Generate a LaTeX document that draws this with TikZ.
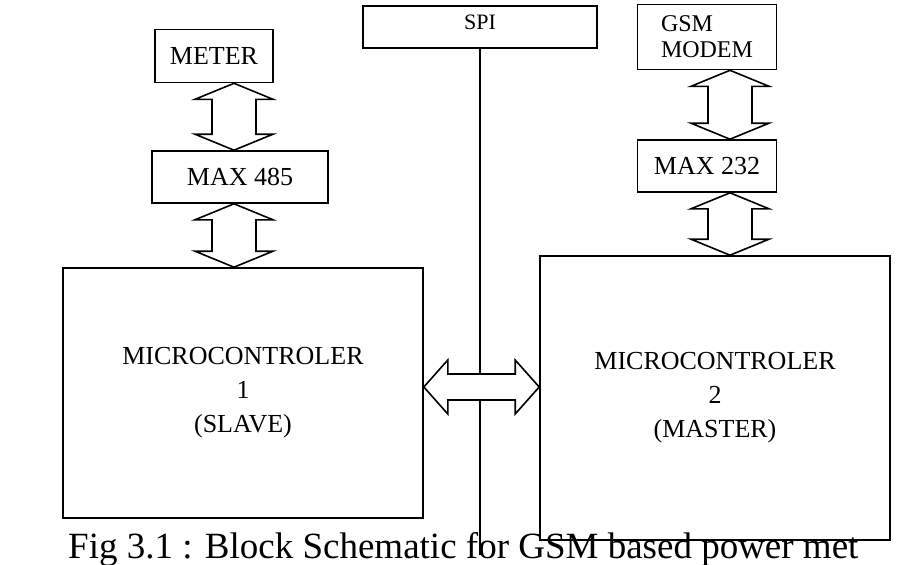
\documentclass[tikz,border=0pt]{standalone}
\usepackage{fontspec}
\setmainfont{Liberation Serif}
\usetikzlibrary{calc}
\begin{document}
\begin{tikzpicture}[x=1pt,y=-1pt,
  box/.style={draw,line width=1.6pt,inner sep=0pt,font=\fontsize{26}{34}\selectfont,align=center},
  arr/.style={draw,line width=1.6pt,fill=white,line join=miter}]
\useasboundingbox (0,0) rectangle (903,565);
\node[box,minimum width=118,minimum height=53] (meter) at (214,56) {METER};
\node[box,minimum width=176,minimum height=52] (m485) at (240,177) {MAX 485};
\node[box,minimum width=360,minimum height=250] (mc1) at (243,393) {MICROCONTROLER\\1\\(SLAVE)};
\node[box,minimum width=234,minimum height=42,anchor=north] (spi) at (480,5) {};
\node[font=\fontsize{22}{24}\selectfont] (spit) at (480,22) {SPI};
\node[box,minimum width=139,minimum height=65,align=left,font=\fontsize{24}{26}\selectfont] (gsm) at (707,37) {GSM\\MODEM};
\node[box,minimum width=139,minimum height=52] (m232) at (707,166) {MAX 232};
\node[box,minimum width=350,minimum height=284] (mc2) at (715,398) {MICROCONTROLER\\2\\(MASTER)};
\coordinate (spiend) at (480,555);
\draw[line width=1.6pt] (spi.south) -- (spiend);
% vertical double arrows
\foreach \a/\b/\c in {meter/m485/234, m485/mc1/234, gsm/m232/730, m232/mc2/730}{
  \path (\a.south) coordinate (t) (\b.north) coordinate (u);
  \draw[arr] (\c,0 |- t) -- ($(\c+39,0 |- t)+(0,16)$) -- ($(\c+22,0 |- t)+(0,16)$)
     -- ($(\c+22,0 |- u)+(0,-16)$) -- ($(\c+39,0 |- u)+(0,-16)$) -- (\c,0 |- u)
     -- ($(\c-39,0 |- u)+(0,-16)$) -- ($(\c-22,0 |- u)+(0,-16)$)
     -- ($(\c-22,0 |- t)+(0,16)$) -- ($(\c-39,0 |- t)+(0,16)$) -- cycle;
}
% horizontal double arrow
\path (mc1.east |- 0,387) coordinate (l) (mc2.west |- 0,387) coordinate (r);
\draw[arr] (l) -- ($(l)+(24,-27)$) -- ($(l)+(24,-13)$) -- ($(r)+(-24,-13)$) -- ($(r)+(-24,-27)$)
  -- (r) -- ($(r)+(-24,27)$) -- ($(r)+(-24,13)$) -- ($(l)+(24,13)$) -- ($(l)+(24,27)$) -- cycle;
\node[anchor=base west,font=\fontsize{37}{40}\selectfont,inner sep=0pt] (cap) at (68,558) {Fig 3.1 : Block Schematic for GSM based power met};
\end{tikzpicture}
\end{document}
